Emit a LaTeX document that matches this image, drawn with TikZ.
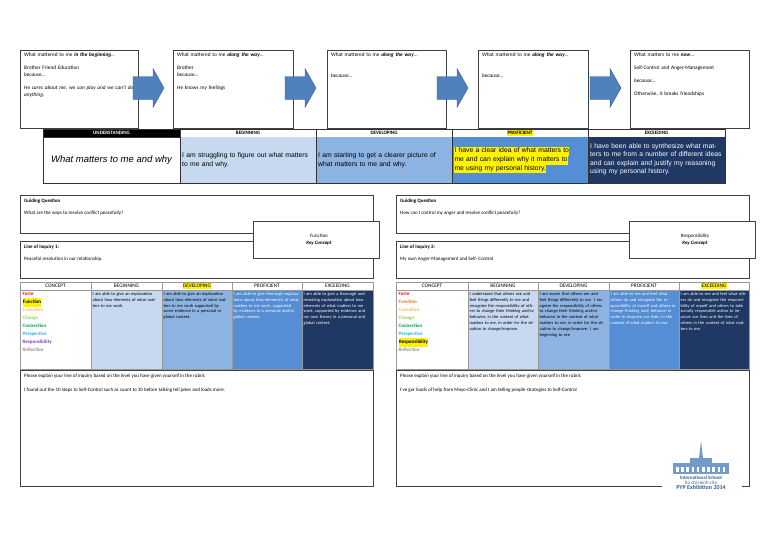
\documentclass[tikz,border=0pt]{standalone}
\usepackage{fontspec}
\setmainfont{Carlito}
\newfontfamily\arialf{Liberation Sans}
\usetikzlibrary{positioning}
\definecolor{cB}{HTML}{C6D9F1}
\definecolor{cD}{HTML}{8DB3E2}
\definecolor{cP}{HTML}{558ED5}
\definecolor{cE}{HTML}{1F3864}
\definecolor{arr}{HTML}{4F81BD}
\definecolor{arrd}{HTML}{385D8A}
\definecolor{cForm}{HTML}{FF0000}
\definecolor{cFunc}{HTML}{F07020}
\definecolor{cCaus}{HTML}{F8C050}
\definecolor{cChg}{HTML}{92D050}
\definecolor{cConn}{HTML}{00A050}
\definecolor{cPers}{HTML}{20B0F0}
\definecolor{cResp}{HTML}{8040B0}
\definecolor{cRefl}{HTML}{909090}
\newcommand{\hl}[1]{{\setlength{\fboxsep}{0.3pt}\colorbox{yellow}{\strut #1}}}
\tikzset{
  box/.style={draw=black!75,line width=0.8pt,fill=white},
  tx/.style={inner sep=0pt,anchor=north west,align=left,font=\fontsize{5.3}{7}\selectfont},
  cell/.style={inner sep=1.5pt,anchor=north west,align=left,text width=66pt,font=\fontsize{4.4}{5.9}\selectfont},
  rub/.style={inner sep=2pt,anchor=west,align=left,text width=128pt,font=\arialf\fontsize{6.8}{8.5}\selectfont},
  hdr/.style={inner sep=0pt,font=\fontsize{5.3}{6}\selectfont},
  rhdr/.style={inner sep=0pt,font=\fontsize{5}{6}\selectfont\bfseries},
  bigarrow/.pic={\fill[arr,draw=arrd,line width=0.4pt] (0,-11.5)--(20,-11.5)--(20,-19.5)--(31,0)--(20,19.5)--(20,11.5)--(0,11.5)--cycle;}
}
\begin{document}
\begin{tikzpicture}[x=1pt,y=-1pt]
\useasboundingbox[fill=white] (0,0) rectangle (768,543);
% top boxes
\draw[box] (20,50) rectangle (138,128);
\node[tx,text width=112pt] (t1) at (24,53) {What mattered to me \textbf{\textit{in the beginning}}\ldots\\[6pt] Brother Friend Education\\ \textit{because\ldots}\\[6pt] \textit{He cares about me, we can play and we can't do anything.}};
\draw[box] (173,50) rectangle (293,128);
\node[tx,text width=112pt] (t2) at (177,53) {What mattered to me \textbf{\textit{along the way}}\ldots\\[6pt] Brother\\ \textit{because\ldots}\\[6pt] He knows my feelings};
\draw[box] (327,50) rectangle (446,128);
\node[tx,text width=112pt] (t3) at (331,53) {What mattered to me \textbf{\textit{along the way}}\ldots\\[14pt] \textit{because\ldots}};
\draw[box] (478,50) rectangle (588,128);
\node[tx,text width=104pt] (t4) at (482,53) {What mattered to me \textbf{\textit{along the way}}\ldots\\[14pt] \textit{because\ldots}};
\draw[box] (630,50) rectangle (749,128);
\node[tx,text width=114pt] (t5) at (634,53) {What matters to me \textbf{\textit{now}}\ldots\\[6pt] Self-Control and Anger-Management\\[6pt] \textit{because\ldots}\\[6pt] Otherwise, it breaks friendships};
\pic at (133,88) {bigarrow};
\pic at (285,88) {bigarrow};
\pic at (437,88) {bigarrow};
\pic at (590,88) {bigarrow};
% rubric
\fill[black] (43,129) rectangle (180,137);
\draw[black!80,line width=0.6pt] (43,129) rectangle (725,183);
\draw[black!80,line width=0.6pt] (43,137) -- (725,137);
\fill[cB] (180,137) rectangle (316,183);
\fill[cD] (316,137) rectangle (452,183);
\fill[cP] (452,137) rectangle (588,183);
\fill[cE] (588,137) rectangle (725,183);
\foreach \x in {180,316,452,588} \draw[black!80,line width=0.6pt] (\x,129) -- (\x,183);
\draw[black!80,line width=0.6pt] (43,129) rectangle (725,183);
\node[rhdr,text=white] (h1) at (111.5,133) {UNDERSTANDING};
\node[rhdr] (h2) at (248,133) {BEGINNING};
\node[rhdr] (h3) at (384,133) {DEVELOPING};
\node[rhdr] (h4) at (520,133) {\hl{PROFICIENT}};
\node[rhdr] (h5) at (656.5,133) {EXCEEDING};
\node[inner sep=0pt,font=\arialf\itshape\fontsize{9.5}{11}\selectfont] (r1) at (111.5,160) {What matters to me and why};
\node[rub] (r2) at (180,160) {I am struggling to figure out what matters to me and why.};
\node[rub] (r3) at (316,160) {I am starting to get a clearer picture of what matters to me and why.};
\node[rub,text width=132pt] (r4) at (452,160) {\hl{I have a clear idea of what matters to}\\[-1.2pt]\hl{me and can explain why it matters to}\\[-1.2pt]\hl{me using my personal history.}};
\node[rub,text=white,text width=132pt] (r5) at (588,159) {I have been able to synthesize what matters to me from a number of different ideas and can explain and justify my reasoning using my personal history.};
% guiding questions
\draw[box] (20,195) rectangle (373,233);
\node[tx,font=\fontsize{5}{6}\selectfont] (g1) at (24,199) {\textbf{Guiding Question}\\[6pt] What are the ways to resolve conflict peacefully?};
\draw[box] (20,241) rectangle (373,278);
\node[tx,font=\fontsize{5}{6}\selectfont] (l1) at (24,245) {\textbf{Line of inquiry 1:}\\[6pt] Peaceful resolution in our relationship.};
\draw[box] (253,221) rectangle (379,258);
\node[inner sep=0pt,align=center,font=\fontsize{5}{7}\selectfont] (k1) at (319,240) {Function\\ \textbf{\textit{Key Concept}}};
\draw[box] (396,195) rectangle (749,233);
\node[tx,font=\fontsize{5}{6}\selectfont] (g2) at (400,199) {\textbf{Guiding Question}\\[6pt] How can I control my anger and resolve conflict peacefully?};
\draw[box] (396,241) rectangle (749,278);
\node[tx,font=\fontsize{5}{6}\selectfont] (l2) at (400,245) {\textbf{Line of inquiry 2:}\\[6pt] My own Anger-Management and Self- Control};
\draw[box] (629,221) rectangle (755,258);
\node[inner sep=0pt,align=center,font=\fontsize{5}{7}\selectfont] (k2) at (695,240) {Responsibility\\ \textbf{\textit{Key Concept}}};
% left concept table
\fill[cB] (91,290) rectangle (162,369);
\fill[cD] (162,290) rectangle (232,369);
\fill[cP] (232,290) rectangle (302,369);
\fill[cE] (302,290) rectangle (373,369);
\draw[black!40,line width=0.4pt] (20,282) rectangle (373,369) (20,290)--(373,290);
\foreach \x in {91,162,232,302} \draw[black!40,line width=0.4pt] (\x,282)--(\x,369);
\node[hdr] (c1) at (55.5,286) {CONCEPT};
\node[hdr] (c2) at (126.5,286) {BEGINNING};
\node[hdr] (c3) at (197,286) {\hl{DEVELOPING}};
\node[hdr] (c4) at (267,286) {PROFICIENT};
\node[hdr] (c5) at (337.5,286) {EXCEEDING};
\node[cell,font=\bfseries\fontsize{5}{8}\selectfont] (cl1) at (21,291) {\textcolor{cForm}{Form}\\ \hl{Function}\\ \textcolor{cCaus}{Causation}\\ \textcolor{cChg}{Change}\\ \textcolor{cConn}{Connection}\\ \textcolor{cPers}{Perspective}\\ \textcolor{cResp}{Responsibility}\\ \textcolor{cRefl}{Reflection}};
\node[cell] (b1) at (91,290.5) {I am able to give an explanation about how elements of what matters to me work.};
\node[cell] (d1) at (162,290.5) {I am able to give an explanation about how elements of what matters to me work supported by some evidence in a personal or global context.};
\node[cell,text=white] (p1) at (232,290.5) {I am able to give thorough explanations about how element/s of what matters to me work, supported by evidence in a personal and/or global context.};
\node[cell,text=white] (e1) at (302,290.5) {I am able to give a thorough and revealing explanation about how elements of what matters to me work, supported by evidence and my own theory in a personal and global context.};
\draw[box] (20,370) rectangle (373,486);
\node[tx,font=\fontsize{5}{6}\selectfont] (x1) at (24,374) {Please explain your line of inquiry based on the level you have given yourself in the rubric\\[8pt] I found out the 10 steps to Self-Control such as count to 10 before talking tell jokes and loads more.};
% right concept table
\fill[cB] (468,290) rectangle (538,369);
\fill[cD] (538,290) rectangle (609,369);
\fill[cP] (609,290) rectangle (679,369);
\fill[cE] (679,290) rectangle (749,369);
\draw[black!40,line width=0.4pt] (396,282) rectangle (749,369) (396,290)--(749,290);
\foreach \x in {468,538,609,679} \draw[black!40,line width=0.4pt] (\x,282)--(\x,369);
\node[hdr] (rc1) at (432,286) {CONCEPT};
\node[hdr] (rc2) at (503,286) {BEGINNING};
\node[hdr] (rc3) at (573.5,286) {DEVELOPING};
\node[hdr] (rc4) at (644,286) {PROFICIENT};
\node[hdr] (rc5) at (714,286) {\hl{EXCEEDING}};
\node[cell,font=\bfseries\fontsize{5}{8}\selectfont] (rcl) at (397,291) {\textcolor{cForm}{Form}\\ \textcolor{cFunc}{Function}\\ \textcolor{cCaus}{Causation}\\ \textcolor{cChg}{Change}\\ \textcolor{cConn}{Connection}\\ \textcolor{cPers}{Perspective}\\ \hl{Responsibility}\\ \textcolor{cRefl}{Reflection}};
\node[cell] (b2) at (468,290.5) {I understand that others see and feel things differently to me and recognize the responsibility of others to change their thinking and/or behavior, in the context of what matters to me, in order for the situation to change/improve.};
\node[cell] (d2) at (538,290.5) {I am aware that others see and feel things differently to me. I recognize the responsibility of others to change their thinking and/or behavior in the context of what matters to me, in order for the situation to change/improve. I am beginning to see};
\node[cell,text=white] (p2) at (609,290.5) {I am able to see and feel what others do and recognize the responsibility of myself and others to change thinking and/ behavior in order to improve our lives, in the context of what matters to me.};
\node[cell,text=white] (e2) at (679,290.5) {I am able to see and feel what others do and recognize the responsibility of myself and others to take socially responsible action to improve our lives and the lives of others in the context of what matters to me.};
\draw[box] (396,370) rectangle (749,486);
\node[tx,font=\fontsize{5}{6}\selectfont] (x2) at (400,374) {Please explain your line of inquiry based on the level you have given yourself in the rubric\\[8pt] I've gor loads of help from Mayo-Clinic and I am telling people strategies to Self-Control};
% logo
\fill[white] (662,440) rectangle (742,492);
\fill[arr!80] (701,441) -- (703,458) -- (699,458) -- cycle;
\fill[arr!80] (690,458) rectangle (712,463);
\fill[arr!80] (684,463) arc (180:0:5) -- cycle;
\fill[arr!80] (708,463) arc (180:0:5) -- cycle;
\fill[arr!80] (673,463) rectangle (729,474);
\foreach \i in {0,...,9} \fill[white] (676+5.2*\i,467) rectangle (678.5+5.2*\i,472);
\node[inner sep=0pt,align=center,text=arrd,font=\fontsize{5}{5.2}\selectfont] (logo) at (701,483) {\textbf{International School}\\ \textsc{ho chi minh city}\\ \textbf{\fontsize{6}{6}\selectfont PYP Exhibition 2014}};
\end{tikzpicture}
\end{document}
